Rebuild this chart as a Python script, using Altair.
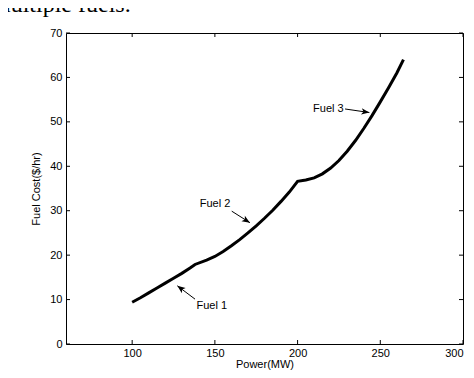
import altair as alt
import pandas as pd

# Curve data
power = [100, 105, 110, 115, 120, 125, 130, 135, 138,
         145, 150, 155, 160, 165, 170, 175, 180, 185, 190, 195, 200,
         205, 210, 215, 220, 225, 230, 235, 240, 245, 250, 255, 260, 264]
cost = [9.4, 10.4, 11.5, 12.6, 13.7, 14.8, 15.9, 17.1, 17.9,
        18.9, 19.7, 20.8, 22.1, 23.5, 25.0, 26.6, 28.3, 30.1, 32.1, 34.2, 36.6,
        36.9, 37.4, 38.3, 39.6, 41.3, 43.4, 45.8, 48.5, 51.4, 54.5, 57.7, 61.0, 64.0]

x_ticks = [100, 150, 200, 250, 300]
y_ticks = [0, 10, 20, 30, 40, 50, 60, 70]

# Annotations
ann_text = ["Fuel 1", "Fuel 2", "Fuel 3"]
ann_x = [148.1, 150.1, 218.6]
ann_y = [8.5, 31.6, 52.9]
arrow_x1 = [138.0, 160.2, 228.7]
arrow_y1 = [10.1, 29.9, 52.9]
arrow_x2 = [127.3, 171.2, 243.4]
arrow_y2 = [13.1, 27.3, 52.1]
arrow_angle = [307, 122, 98]

W, H = 397, 311

curve_df = pd.DataFrame({"power": power, "cost": cost})
ann_df = pd.DataFrame({"text": ann_text, "x": ann_x, "y": ann_y})
arr_df = pd.DataFrame({"x1": arrow_x1, "y1": arrow_y1, "x2": arrow_x2,
                       "y2": arrow_y2, "angle": arrow_angle})
xt_df = pd.DataFrame({"v": x_ticks})
yt_df = pd.DataFrame({"v": y_ticks})

xscale = alt.Scale(domain=[60, 300], nice=False, zero=False)
yscale = alt.Scale(domain=[0, 70], nice=False)

xaxis = alt.Axis(values=x_ticks, ticks=False, tickSize=0, domain=False, grid=False,
                 labelPadding=3, title="Power(MW)", titlePadding=0)
yaxis = alt.Axis(values=y_ticks, ticks=False, tickSize=0, domain=False, grid=False,
                 labelPadding=4, title="Fuel Cost($/hr)", titlePadding=8)

line = alt.Chart(curve_df).mark_line(color="black", strokeWidth=3).encode(
    x=alt.X("power:Q", scale=xscale, axis=xaxis),
    y=alt.Y("cost:Q", scale=yscale, axis=yaxis),
)

tick_style = dict(color="black", strokeWidth=1)
bottom_ticks = alt.Chart(xt_df).mark_rule(**tick_style).encode(
    x=alt.X("v:Q", scale=xscale), y=alt.value(H), y2=alt.value(H - 4))
top_ticks = alt.Chart(xt_df).mark_rule(**tick_style).encode(
    x=alt.X("v:Q", scale=xscale), y=alt.value(0), y2=alt.value(4))
left_ticks = alt.Chart(yt_df).mark_rule(**tick_style).encode(
    y=alt.Y("v:Q", scale=yscale), x=alt.value(0), x2=alt.value(4))
right_ticks = alt.Chart(yt_df).mark_rule(**tick_style).encode(
    y=alt.Y("v:Q", scale=yscale), x=alt.value(W), x2=alt.value(W - 4))

labels = alt.Chart(ann_df).mark_text(font="Liberation Sans", fontSize=11,
                                     color="black").encode(
    x=alt.X("x:Q", scale=xscale), y=alt.Y("y:Q", scale=yscale), text="text:N")

arrow_lines = alt.Chart(arr_df).mark_rule(color="black", strokeWidth=1).encode(
    x=alt.X("x1:Q", scale=xscale), y=alt.Y("y1:Q", scale=yscale),
    x2="x2:Q", y2="y2:Q")

arrow_heads = alt.Chart(arr_df).mark_point(
    shape="M0,0L-0.8,2L0,1.5L0.8,2Z", filled=True, color="black", opacity=1,
    size=64, strokeWidth=0).encode(
    x=alt.X("x2:Q", scale=xscale), y=alt.Y("y2:Q", scale=yscale),
    angle=alt.Angle("angle:Q", scale=None))

caption = alt.Chart(pd.DataFrame({"t": ["multiple fuels."]})).mark_text(
    font="Liberation Serif", fontSize=24, align="left", baseline="alphabetic",
    color="black").encode(x=alt.value(-74), y=alt.value(-21), text="t:N")

chart = alt.layer(
    line, bottom_ticks, top_ticks, left_ticks, right_ticks,
    arrow_lines, arrow_heads, labels, caption
).properties(
    width=W, height=H,
    autosize=alt.AutoSizeParams(type="none"),
    padding={"left": 58, "top": 25, "right": 3, "bottom": 26},
).configure_view(
    stroke="black", strokeWidth=1
).configure_axis(
    labelFont="Liberation Sans", labelFontSize=11, labelColor="black",
    titleFont="Liberation Sans", titleFontSize=11, titleFontWeight="normal",
    titleColor="black"
)

chart.save("out.html", embed_options={"renderer": "svg", "actions": False})
